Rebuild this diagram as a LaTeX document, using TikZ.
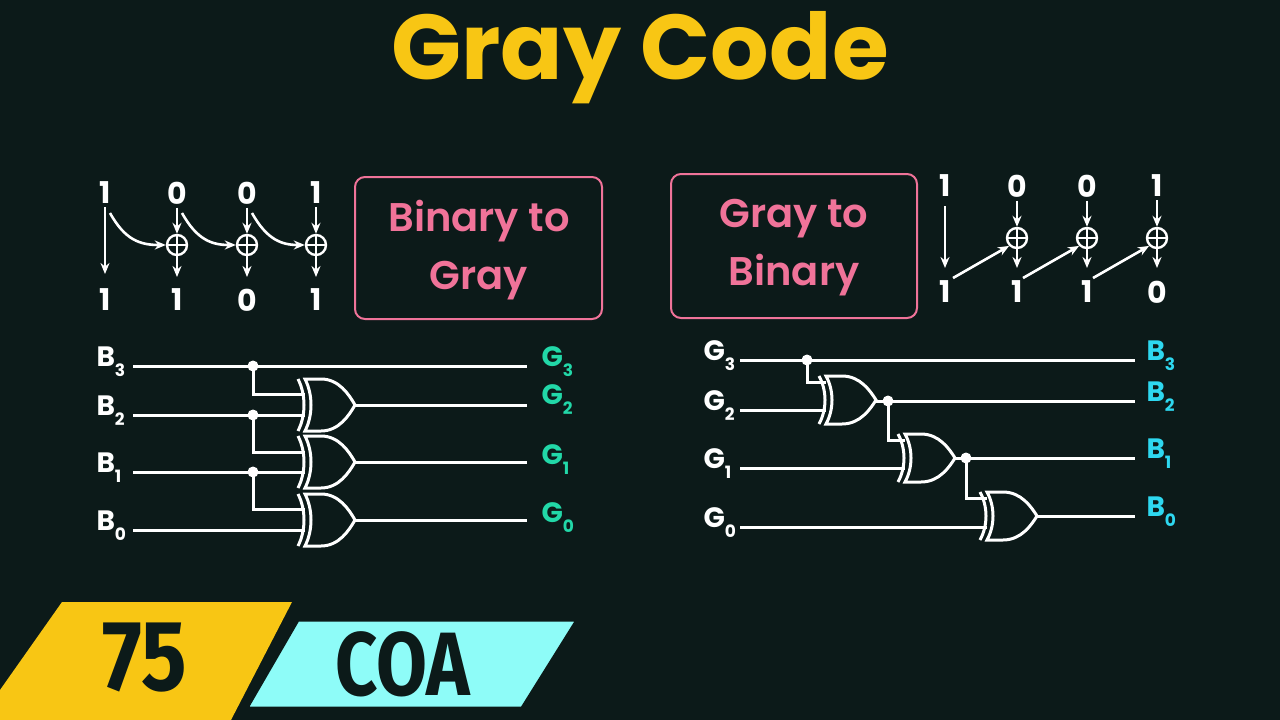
\documentclass[tikz,border=0pt]{standalone}
\usepackage{fontspec}
\setmainfont{Poppins}
\newfontfamily\semib{Poppins SemiBold}
\newfontfamily\fira{Fira Sans}
\usetikzlibrary{arrows.meta}
\definecolor{bg}{HTML}{0C1A19}
\definecolor{ttl}{HTML}{F8C614}
\definecolor{pnk}{HTML}{F07399}
\definecolor{grn}{HTML}{22D8A8}
\definecolor{cyn}{HTML}{2ED8F0}
\definecolor{lcyn}{HTML}{8EFCF8}
\newcommand{\xorg}[3]{% x, y, halfheight
 \draw[wire] (#1+4,#2-#3) -- (#1+20,#2-#3) .. controls (#1+38,#2-#3) and (#1+48,#2-#3*0.4) .. (#1+54,#2) .. controls (#1+48,#2+#3*0.4) and (#1+38,#2+#3) .. (#1+20,#2+#3) -- (#1+4,#2+#3) .. controls (#1+12,#2+#3*0.4) and (#1+12,#2-#3*0.4) .. cycle;
 \draw[wire] (#1-3,#2-#3) .. controls (#1+5,#2-#3*0.4) and (#1+5,#2+#3*0.4) .. (#1-3,#2+#3);}
\begin{document}
\begin{tikzpicture}[x=1pt,y=-1pt,
 wire/.style={white,line width=3pt},
 arr/.style={white,line width=2.6pt,-{Stealth[length=11pt,width=9pt]}},
 dig/.style={white,font=\bfseries\fontsize{30}{30}\selectfont},
 lab/.style={white,font=\bfseries\fontsize{28}{28}\selectfont,anchor=west},
 dotn/.style={circle,fill=white,inner sep=0pt,minimum size=11pt},
 xc/.style={circle,draw=white,line width=2.4pt,minimum size=20pt,inner sep=0pt,
   path picture={\draw[white,line width=2.2pt] (path picture bounding box.north) -- (path picture bounding box.south) (path picture bounding box.west) -- (path picture bounding box.east);}},
 pbox/.style={text=pnk,align=center,font=\semib\fontsize{40}{58}\selectfont}]
\fill[bg] (0,0) rectangle (1280,720);
\useasboundingbox (0,0) rectangle (1280,720);
\node[ttl,font=\bfseries\fontsize{92}{92}\selectfont] (title) at (640,58) {Gray Code};
% boxes
\draw[pnk,line width=2pt,rounded corners=10pt] (355,177) rectangle (602,319);
\node[pbox] (b2g) at (479,250) {Binary to\\Gray};
\draw[pnk,line width=2pt,rounded corners=10pt] (671,174) rectangle (917,318);
\node[pbox] (g2b) at (794,248) {Gray to\\Binary};
% binary to gray
\foreach \x/\t/\b [count=\i] in {105/1/1,177/0/1,247/0/0,316/1/1}{
 \node[dig] (lt\i) at (\x,193) {\t};
 \node[dig] (lb\i) at (\x,300) {\b};}
\foreach \x [count=\i from 2] in {177,247,316}{
 \node[xc] (lx\i) at (\x,245) {};
 \draw[arr] (lt\i.south) -- (lx\i.north);
 \draw[arr] (lx\i.south) -- (\x,277);}
\draw[arr] (lt1.south) -- (105,274);
\draw[arr] (110,213) .. controls (125,240) and (140,245) .. (lx2.west);
\draw[arr] (182,213) .. controls (197,240) and (212,245) .. (lx3.west);
\draw[arr] (252,213) .. controls (267,240) and (282,245) .. (lx4.west);
% gray to binary
\foreach \x/\t/\b [count=\i] in {945/1/1,1017/0/1,1087/0/1,1157/1/0}{
 \node[dig] (rt\i) at (\x,186) {\t};
 \node[dig] (rb\i) at (\x,292) {\b};}
\foreach \x [count=\i from 2] in {1017,1087,1157}{
 \node[xc] (rx\i) at (\x,238) {};
 \draw[arr] (rt\i.south) -- (rx\i.north);
 \draw[arr] (rx\i.south) -- (\x,268);}
\draw[arr] (945,206) -- (945,268);
\draw[arr] (953,278) -- (rx2.south west);
\draw[arr] (1023,278) -- (rx3.south west);
\draw[arr] (1093,278) -- (rx4.south west);
% left circuit
\foreach \n/\y in {3/366,2/415,1/472,0/530}{
 \node[lab] (B\n) at (93,\y-4) {B\raisebox{-10pt}{\fontsize{17}{17}\selectfont\n}};}
\node[lab,grn] (G3) at (538,362) {G\raisebox{-10pt}{\fontsize{17}{17}\selectfont 3}};
\node[lab,grn] (G2) at (538,400) {G\raisebox{-10pt}{\fontsize{17}{17}\selectfont 2}};
\node[lab,grn] (G1) at (538,460) {G\raisebox{-10pt}{\fontsize{17}{17}\selectfont 1}};
\node[lab,grn] (G0) at (538,518) {G\raisebox{-10pt}{\fontsize{17}{17}\selectfont 0}};
\draw[wire] (133,366) -- (527,366);
\draw[wire] (133,415) -- (305,415);
\draw[wire] (133,472) -- (305,472);
\draw[wire] (133,530) -- (305,530);
\draw[wire] (253,366) |- (305,394);
\draw[wire] (253,415) |- (305,452);
\draw[wire] (253,472) |- (305,509);
\xorg{301}{405}{26}\xorg{301}{462}{26}\xorg{301}{520}{26}
\draw[wire] (355,405) -- (527,405);
\draw[wire] (355,462) -- (527,462);
\draw[wire] (355,520) -- (527,520);
\node[dotn] (d1) at (253,366) {};\node[dotn] (d2) at (253,415) {};\node[dotn] (d3) at (253,472) {};
% right circuit
\foreach \n/\y in {3/360,2/410,1/468,0/527}{
 \node[lab] (GG\n) at (700,\y-4) {G\raisebox{-10pt}{\fontsize{17}{17}\selectfont\n}};}
\foreach \n/\y in {3/360,2/401,1/458,0/516}{
 \node[lab,cyn] (BB\n) at (1143,\y-4) {B\raisebox{-10pt}{\fontsize{17}{17}\selectfont\n}};}
\draw[wire] (740,360) -- (1135,360);
\draw[wire] (740,410) -- (826,410);
\draw[wire] (740,468) -- (905,468);
\draw[wire] (740,527) -- (987,527);
\draw[wire] (807,360) |- (826,382);
\draw[wire] (888,401) |- (905,440);
\draw[wire] (966,458) |- (987,498);
\xorg{822}{400}{24}\xorg{901}{458}{24}\xorg{983}{516}{24}
\draw[wire] (876,401) -- (1135,401);
\draw[wire] (955,458) -- (1135,458);
\draw[wire] (1037,516) -- (1135,516);
\node[dotn] at (807,360) {};\node[dotn] at (888,401) {};\node[dotn] at (966,458) {};
% banner
\fill[ttl] (62,602) -- (292,602) -- (231,720) -- (0,720) -- (0,690) -- cycle;
\filldraw[fill=lcyn,draw=bg,line width=3pt] (298,620) -- (577,620) -- (522,708) -- (247,708) -- cycle;
\node[bg,font=\fira\bfseries\fontsize{100}{100}\selectfont,xscale=0.85] (n75) at (145,658) {75};
\node[bg,font=\fira\bfseries\fontsize{90}{90}\selectfont,xscale=0.82] (coa) at (403,664) {COA};
\end{tikzpicture}
\end{document}
